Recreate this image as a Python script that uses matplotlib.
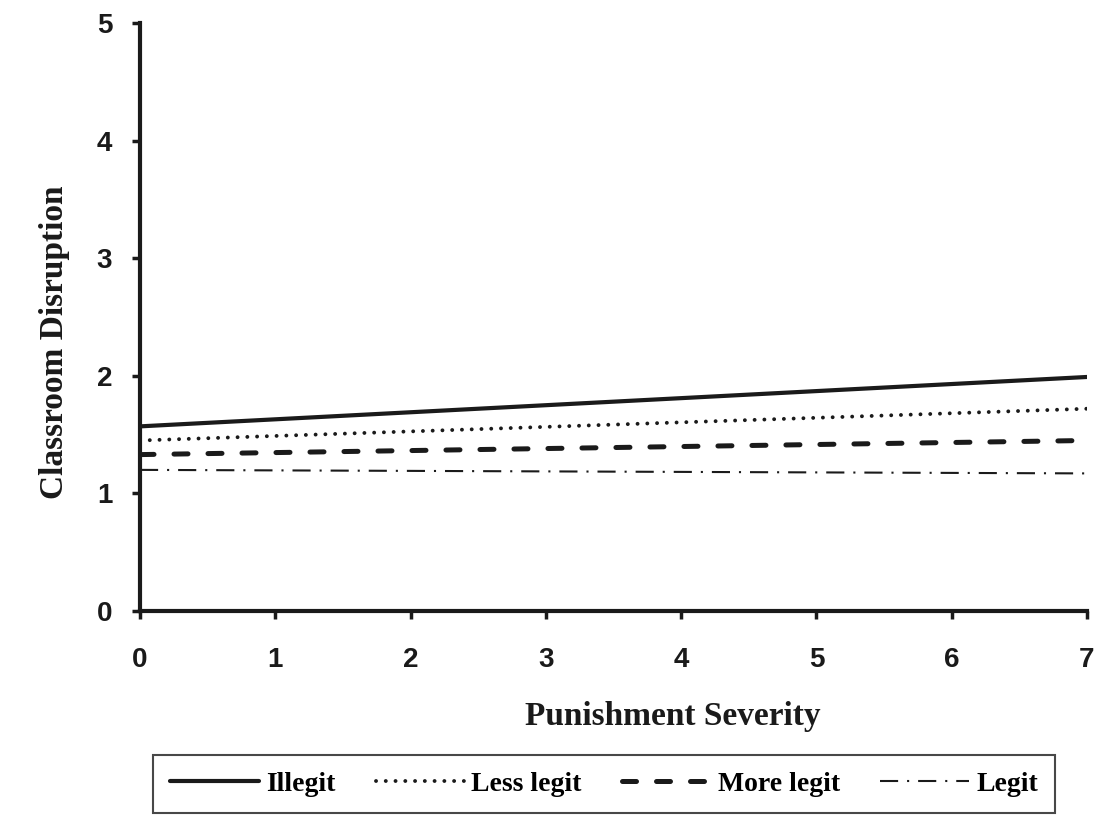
import matplotlib
matplotlib.use("Agg")
import matplotlib.pyplot as plt

x_vals = [0, 7]
illegit = [1.57, 1.99]
less_legit = [1.45, 1.72]
more_legit = [1.33, 1.45]
legit = [1.20, 1.17]
labels = ["Illegit", "Less legit", "More legit", "Legit"]

ink = "#1a1a1a"
fig = plt.figure(figsize=(11.11, 8.23), dpi=100)
ax = fig.add_axes([140/1111, 1-611/823, (1087-140)/1111, (611-23)/823])

ax.plot(x_vals, illegit, color=ink, lw=3.0, linestyle="-", label=labels[0], solid_capstyle="round")
ax.plot(x_vals, less_legit, color=ink, lw=2.8, linestyle=(0, (0.01, 2.5)), dash_capstyle="round", label=labels[1])
ax.plot(x_vals, more_legit, color=ink, lw=3.6, linestyle=(0, (2.8, 4.0)), dash_capstyle="round", label=labels[2])
ax.plot(x_vals, legit, color=ink, lw=1.5, linestyle=(0, (8.7, 4.3, 1, 4.3)), label=labels[3])

ax.set_xlim(0, 7)
ax.set_ylim(0, 5)
ax.set_xticks(range(0, 8))
ax.set_yticks(range(0, 6))
for s in ["top", "right"]:
    ax.spines[s].set_visible(False)
for s in ["left", "bottom"]:
    ax.spines[s].set_linewidth(3)
    ax.spines[s].set_color(ink)
    ax.spines[s].set_capstyle("projecting")
ax.tick_params(axis="both", direction="out", length=6, width=2.5, color=ink, labelsize=20)
ax.tick_params(axis="x", pad=20)
ax.tick_params(axis="y", pad=14)
for t in ax.get_xticklabels() + ax.get_yticklabels():
    t.set_fontfamily("Liberation Sans")
    t.set_fontweight("bold")
    t.set_color(ink)

fig.text(673/1111, 1-717/823, "Punishment Severity", ha="center", va="center",
         fontfamily="Liberation Serif", fontweight="bold", fontsize=24, color=ink)
fig.text(55/1111, 1-342/823, "Classroom Disruption", ha="center", va="center", rotation=90,
         fontfamily="Liberation Serif", fontweight="bold", fontsize=24, color=ink)

leg = fig.legend(loc="center", bbox_to_anchor=(604/1111, 1-784/823), ncol=4,
                 prop={"family": "Liberation Serif", "weight": "bold", "size": 20},
                 frameon=True, fancybox=False, edgecolor=ink, handlelength=3.2,
                 columnspacing=1.45, handletextpad=0.25, borderpad=0.6, borderaxespad=0)
leg.get_frame().set_linewidth(1.5)

fig.savefig("out.png", dpi=100)
